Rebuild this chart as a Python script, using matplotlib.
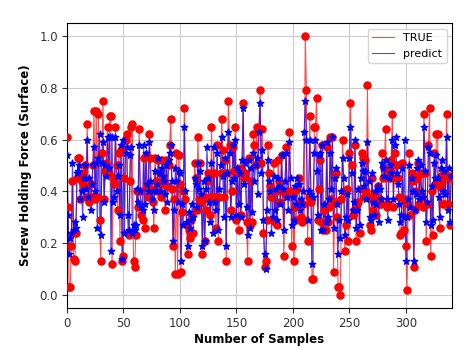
import numpy as np
import matplotlib
matplotlib.use("Agg")
import matplotlib.pyplot as plt

# Valores (aprox.)
y_true = [
    0.61, 0.34, 0.03, 0.03, 0.19, 0.44, 0.14, 0.13, 0.24, 0.45,
    0.53, 0.53, 0.37, 0.44, 0.47, 0.42, 0.50, 0.38, 0.66, 0.37,
    0.36, 0.43, 0.38, 0.50, 0.71, 0.37, 0.71, 0.38, 0.70, 0.29,
    0.13, 0.55, 0.75, 0.37, 0.48, 0.51, 0.65, 0.47, 0.69, 0.69,
    0.12, 0.45, 0.43, 0.65, 0.50, 0.33, 0.55, 0.21, 0.56, 0.13,
    0.15, 0.45, 0.60, 0.62, 0.24, 0.23, 0.44, 0.65, 0.66, 0.13,
    0.11, 0.23, 0.40, 0.34, 0.64, 0.40, 0.31, 0.29, 0.53, 0.26,
    0.54, 0.42, 0.38, 0.62, 0.53, 0.41, 0.36, 0.26, 0.53, 0.44,
    0.40, 0.52, 0.47, 0.38, 0.52, 0.43, 0.44, 0.33, 0.52, 0.42,
    0.50, 0.58, 0.68, 0.41, 0.19, 0.37, 0.08, 0.55, 0.08, 0.54,
    0.43, 0.09, 0.32, 0.40, 0.72, 0.37, 0.27, 0.16, 0.25, 0.22,
    0.29, 0.31, 0.24, 0.51, 0.45, 0.33, 0.61, 0.37, 0.51, 0.36,
    0.16, 0.38, 0.21, 0.33, 0.44, 0.47, 0.38, 0.31, 0.65, 0.37,
    0.47, 0.38, 0.26, 0.58, 0.21, 0.38, 0.47, 0.68, 0.56, 0.38,
    0.52, 0.13, 0.47, 0.75, 0.58, 0.33, 0.40, 0.57, 0.48, 0.65,
    0.29, 0.48, 0.25, 0.49, 0.31, 0.47, 0.74, 0.45, 0.47, 0.28,
    0.13, 0.53, 0.27, 0.44, 0.28, 0.62, 0.58, 0.50, 0.65, 0.51,
    0.64, 0.79, 0.51, 0.64, 0.24, 0.11, 0.13, 0.29, 0.58, 0.47,
    0.42, 0.38, 0.29, 0.51, 0.28, 0.40, 0.27, 0.52, 0.44, 0.36,
    0.54, 0.40, 0.15, 0.39, 0.57, 0.40, 0.39, 0.63, 0.40, 0.19,
    0.39, 0.13, 0.34, 0.29, 0.41, 0.45, 0.36, 0.30, 0.28, 0.35,
    0.29, 1.00, 0.79, 0.21, 0.38, 0.69, 0.36, 0.06, 0.06, 0.65,
    0.65, 0.76, 0.29, 0.41, 0.52, 0.28, 0.58, 0.25, 0.33, 0.25,
    0.57, 0.28, 0.34, 0.61, 0.37, 0.61, 0.09, 0.36, 0.47, 0.30,
    0.03, 0.03, 0.00, 0.37, 0.60, 0.40, 0.17, 0.27, 0.41, 0.21,
    0.55, 0.74, 0.50, 0.31, 0.33, 0.58, 0.21, 0.35, 0.36, 0.24,
    0.41, 0.55, 0.53, 0.38, 0.52, 0.40, 0.81, 0.38, 0.27, 0.25,
    0.45, 0.33, 0.36, 0.39, 0.31, 0.42, 0.35, 0.37, 0.35, 0.55,
    0.45, 0.49, 0.64, 0.34, 0.35, 0.48, 0.45, 0.52, 0.70, 0.34,
    0.55, 0.45, 0.50, 0.45, 0.38, 0.23, 0.24, 0.51, 0.25, 0.37,
    0.19, 0.02, 0.35, 0.55, 0.31, 0.47, 0.44, 0.11, 0.33, 0.40,
    0.45, 0.51, 0.35, 0.47, 0.38, 0.34, 0.70, 0.47, 0.21, 0.35,
    0.58, 0.72, 0.15, 0.40, 0.23, 0.55, 0.43, 0.62, 0.62, 0.42,
    0.26, 0.46, 0.44, 0.35, 0.47, 0.35, 0.70, 0.35, 0.46, 0.27,
    0.45,
]

y_pred = [
    0.54, 0.31, 0.16, 0.22, 0.24, 0.51, 0.25, 0.28, 0.26, 0.47,
    0.48, 0.50, 0.37, 0.40, 0.30, 0.45, 0.50, 0.41, 0.60, 0.38,
    0.45, 0.33, 0.43, 0.50, 0.57, 0.40, 0.51, 0.26, 0.53, 0.62,
    0.23, 0.51, 0.59, 0.36, 0.50, 0.46, 0.61, 0.49, 0.61, 0.17,
    0.61, 0.36, 0.38, 0.61, 0.40, 0.46, 0.50, 0.31, 0.58, 0.14,
    0.60, 0.24, 0.55, 0.57, 0.31, 0.25, 0.54, 0.57, 0.24, 0.27,
    0.25, 0.27, 0.41, 0.36, 0.58, 0.40, 0.34, 0.33, 0.58, 0.35,
    0.55, 0.43, 0.40, 0.59, 0.44, 0.37, 0.40, 0.33, 0.48, 0.40,
    0.43, 0.53, 0.47, 0.40, 0.49, 0.46, 0.44, 0.39, 0.50, 0.36,
    0.52, 0.55, 0.58, 0.44, 0.21, 0.33, 0.49, 0.44, 0.36, 0.48,
    0.47, 0.13, 0.35, 0.27, 0.65, 0.40, 0.28, 0.19, 0.32, 0.26,
    0.29, 0.35, 0.30, 0.45, 0.43, 0.34, 0.51, 0.41, 0.48, 0.39,
    0.19, 0.44, 0.21, 0.41, 0.57, 0.45, 0.36, 0.28, 0.51, 0.24,
    0.57, 0.36, 0.33, 0.55, 0.25, 0.41, 0.50, 0.61, 0.46, 0.30,
    0.53, 0.19, 0.47, 0.63, 0.55, 0.30, 0.44, 0.58, 0.45, 0.60,
    0.31, 0.49, 0.35, 0.47, 0.30, 0.52, 0.72, 0.43, 0.51, 0.34,
    0.23, 0.52, 0.26, 0.49, 0.32, 0.55, 0.44, 0.50, 0.53, 0.39,
    0.63, 0.74, 0.47, 0.56, 0.29, 0.16, 0.10, 0.33, 0.52, 0.44,
    0.40, 0.24, 0.30, 0.46, 0.33, 0.41, 0.29, 0.45, 0.42, 0.35,
    0.54, 0.41, 0.25, 0.44, 0.55, 0.38, 0.33, 0.59, 0.45, 0.27,
    0.38, 0.29, 0.42, 0.35, 0.45, 0.43, 0.33, 0.37, 0.35, 0.40,
    0.63, 0.75, 0.60, 0.29, 0.40, 0.60, 0.39, 0.12, 0.38, 0.55,
    0.60, 0.48, 0.31, 0.54, 0.55, 0.25, 0.58, 0.25, 0.35, 0.28,
    0.59, 0.30, 0.37, 0.55, 0.41, 0.61, 0.26, 0.45, 0.49, 0.35,
    0.16, 0.29, 0.22, 0.40, 0.53, 0.45, 0.23, 0.30, 0.39, 0.29,
    0.53, 0.65, 0.47, 0.33, 0.36, 0.60, 0.26, 0.33, 0.41, 0.27,
    0.45, 0.51, 0.48, 0.42, 0.48, 0.37, 0.59, 0.44, 0.30, 0.29,
    0.47, 0.36, 0.31, 0.40, 0.35, 0.42, 0.28, 0.41, 0.37, 0.51,
    0.49, 0.46, 0.52, 0.37, 0.29, 0.45, 0.50, 0.47, 0.60, 0.37,
    0.58, 0.61, 0.47, 0.43, 0.35, 0.28, 0.31, 0.49, 0.30, 0.60,
    0.13, 0.30, 0.37, 0.50, 0.34, 0.45, 0.40, 0.13, 0.33, 0.39,
    0.49, 0.52, 0.37, 0.50, 0.40, 0.38, 0.65, 0.48, 0.28, 0.36,
    0.57, 0.55, 0.27, 0.42, 0.29, 0.51, 0.45, 0.54, 0.45, 0.38,
    0.30, 0.49, 0.52, 0.40, 0.48, 0.39, 0.61, 0.33, 0.49, 0.28,
    0.46,
]

x = np.arange(len(y_true))

fig = plt.figure(figsize=(4.74, 3.48), dpi=100)
ax = fig.add_axes([0.141, 0.115, 0.813, 0.819])

ax.plot(x, y_true, color="red", lw=0.8, alpha=0.7, label="TRUE")
ax.plot(x, y_pred, color="blue", lw=0.8, alpha=0.7, label="predict")
ax.scatter(x, y_true, color="red", marker="o", s=26, zorder=3)
ax.scatter(x, y_pred, color="blue", marker="*", s=24, zorder=4)

ax.set_xlim(0, len(y_true))
ax.set_ylim(-0.05, 1.05)
ax.set_xticks([0, 50, 100, 150, 200, 250, 300])
ax.set_yticks([0.0, 0.2, 0.4, 0.6, 0.8, 1.0])
ax.tick_params(labelsize=8.5, colors="#333333", pad=3)
ax.grid(True, color="#cccccc", lw=0.8)
ax.set_axisbelow(True)

ax.set_xlabel("Number of Samples", fontsize=8.5, fontweight="bold", labelpad=2)
ax.set_ylabel("Screw Holding Force (Surface)", fontsize=8.5, fontweight="bold", labelpad=5)
ax.legend(loc="upper right", fontsize=8)

fig.savefig("out.png", dpi=100)
